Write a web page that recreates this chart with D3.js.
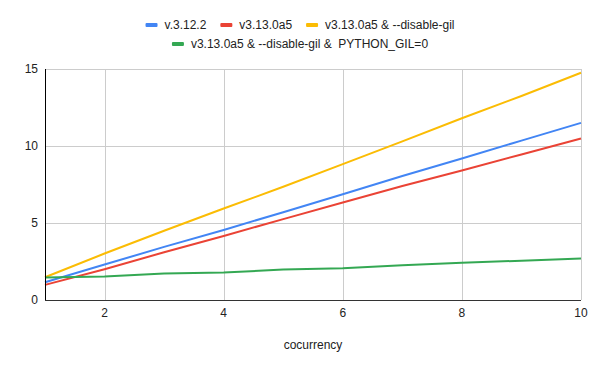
<!DOCTYPE html>
<html>
<head>
    <meta charset="utf-8">
    <title>cocurrency</title>
    <script src="https://cdn.jsdelivr.net/npm/d3@7"></script>
    <style>
        body {
            margin: 0;
            background: #fff;
        }

        text {
            font-family: Arial, "Liberation Sans", sans-serif;
            font-size: 12px;
            fill: #222;
            white-space: pre;
        }

        .grid line {
            stroke: #ccc;
            stroke-width: 1px;
        }

        .series {
            fill: none;
            stroke-width: 2px;
            stroke-linejoin: round;
        }
    </style>
</head>
<body>

<script type="text/javascript">
    var concurrency = [1, 2, 3, 4, 5, 6, 7, 8, 9, 10];

    var names = ["v.3.12.2", "v3.13.0a5", "v3.13.0a5 & --disable-gil",
        "v3.13.0a5 & --disable-gil &  PYTHON_GIL=0"];
    var colors = ["#4285f4", "#ea4335", "#fbbc04", "#34a853"];

    var v3122 = [1.15, 2.3, 3.45, 4.55, 5.7, 6.87, 8.05, 9.19, 10.35, 11.5];
    var v3130 = [0.98, 2.0, 3.1, 4.16, 5.25, 6.33, 7.4, 8.41, 9.45, 10.49];
    var noGil = [1.48, 3.02, 4.5, 5.94, 7.35, 8.82, 10.3, 11.8, 13.25, 14.76];
    var noGilEnv = [1.46, 1.52, 1.72, 1.78, 1.98, 2.06, 2.25, 2.42, 2.55, 2.69];

    var xTicks = [2, 4, 6, 8, 10];
    var yTicks = [0, 5, 10, 15];

    var seriesValues = [v3122, v3130, noGil, noGilEnv];

    var width = 600,
        height = 371,
        margin = {top: 69, right: 19, bottom: 71, left: 45};

    var svg = d3.select("body").append("svg")
        .attr("width", width)
        .attr("height", height);

    var x = d3.scaleLinear()
        .domain([1, 10])
        .range([margin.left, width - margin.right]);

    var y = d3.scaleLinear()
        .domain([0, 15])
        .range([height - margin.bottom, margin.top]);

    // grid
    var grid = svg.append("g").attr("class", "grid");
    grid.selectAll(".gx")
        .data(xTicks)
        .enter().append("line")
        .attr("x1", function (d) { return Math.round(x(d)) + 0.5; })
        .attr("x2", function (d) { return Math.round(x(d)) + 0.5; })
        .attr("y1", y(15))
        .attr("y2", y(0));
    grid.selectAll(".gy")
        .data(yTicks.filter(function (d) { return d > 0; }))
        .enter().append("line")
        .attr("x1", x(1))
        .attr("x2", x(10))
        .attr("y1", function (d) { return Math.round(y(d)) + 0.5; })
        .attr("y2", function (d) { return Math.round(y(d)) + 0.5; });

    // tick labels
    svg.append("g")
        .selectAll("text")
        .data(xTicks)
        .enter().append("text")
        .attr("x", function (d) { return x(d); })
        .attr("y", y(0) + 17)
        .attr("text-anchor", "middle")
        .text(function (d) { return d; });

    svg.append("g")
        .selectAll("text")
        .data(yTicks)
        .enter().append("text")
        .attr("x", margin.left - 7)
        .attr("y", function (d) { return y(d) + 4; })
        .attr("text-anchor", "end")
        .text(function (d) { return d; });

    // lines
    var line = d3.line()
        .x(function (d, i) { return x(concurrency[i]); })
        .y(function (d) { return y(d); });

    seriesValues.forEach(function (vals, i) {
        svg.append("path")
            .datum(vals)
            .attr("class", "series")
            .attr("stroke", colors[i])
            .attr("d", line);
    });

    // axes lines
    svg.append("line")
        .attr("x1", x(1)).attr("x2", x(10))
        .attr("y1", Math.round(y(0)) + 0.5).attr("y2", Math.round(y(0)) + 0.5)
        .attr("stroke", "#333");
    svg.append("line")
        .attr("x1", Math.round(x(1)) + 0.5).attr("x2", Math.round(x(1)) + 0.5)
        .attr("y1", y(15)).attr("y2", y(0))
        .attr("stroke", "#000");

    // axis title
    svg.append("text")
        .attr("x", (x(1) + x(10)) / 2)
        .attr("y", 349)
        .attr("text-anchor", "middle")
        .text("cocurrency");

    // legend, two centred rows
    var rows = [[0, 1, 2], [3]];
    var rowY = [25, 44];
    rows.forEach(function (row, r) {
        var g = svg.append("g");
        var cx = 0;
        row.forEach(function (k, j) {
            var item = g.append("g").attr("transform", "translate(" + cx + ",0)");
            item.append("rect")
                .attr("x", 0).attr("y", -2)
                .attr("width", 12).attr("height", 4)
                .attr("rx", 1)
                .attr("fill", colors[k]);
            var t = item.append("text")
                .attr("x", 19)
                .attr("y", 4)
                .text(names[k]);
            cx += 19 + t.node().getComputedTextLength() + 14;
        });
        var total = cx - 14;
        g.attr("transform", "translate(" + (300 - total / 2) + "," + rowY[r] + ")");
    });
</script>

</body>
</html>
